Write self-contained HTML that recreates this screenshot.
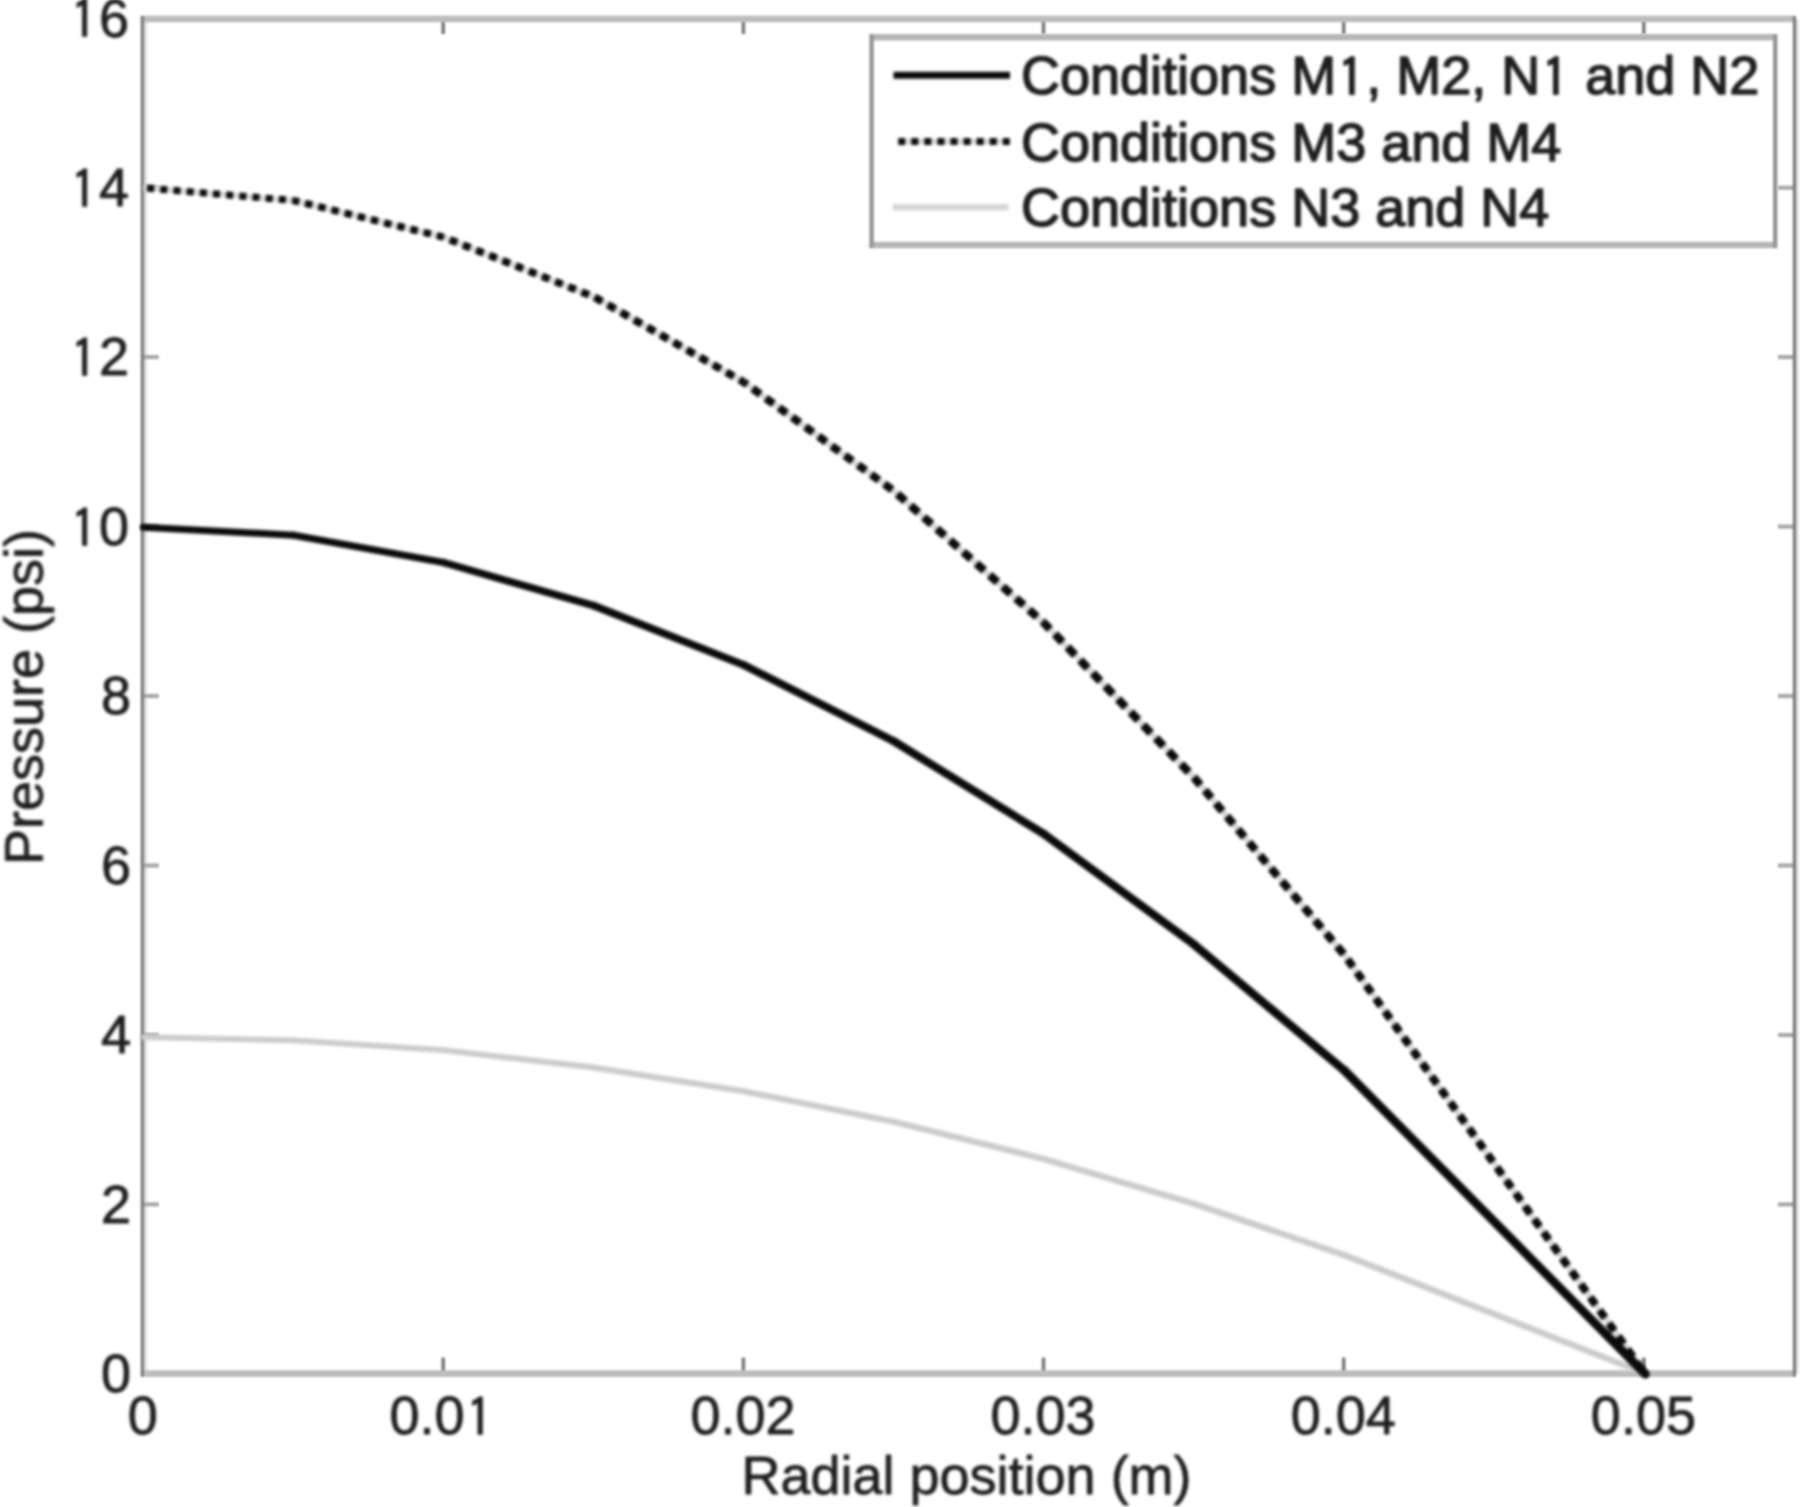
<!DOCTYPE html>
<html><head><meta charset="utf-8"><title>Pressure vs radial position</title>
<style>html,body{margin:0;padding:0;background:#fff}svg{display:block}text{font-family:'Liberation Sans',sans-serif;font-size:54px;fill:#1e1e1e;stroke:#1e1e1e;stroke-width:0.8px;stroke-linejoin:round}</style></head><body>
<svg width="1800" height="1507" viewBox="0 0 1800 1507">
<rect width="1800" height="1507" fill="#fff"/>
<g id="axes" style="filter:blur(0.8px)">
<line x1="145.3" y1="19.0" x2="145.3" y2="1373.6" stroke="#dadada" stroke-width="3"/>
<line x1="1797.2" y1="19.0" x2="1797.2" y2="1373.6" stroke="#dadada" stroke-width="2.6"/>
<line x1="443.2" y1="1373.6" x2="443.2" y2="1357.6" stroke="#7c7c7c" stroke-width="3.6"/>
<line x1="443.2" y1="19.0" x2="443.2" y2="34.0" stroke="#7c7c7c" stroke-width="3.6"/>
<line x1="743.4" y1="1373.6" x2="743.4" y2="1357.6" stroke="#7c7c7c" stroke-width="3.6"/>
<line x1="743.4" y1="19.0" x2="743.4" y2="34.0" stroke="#7c7c7c" stroke-width="3.6"/>
<line x1="1043.5" y1="1373.6" x2="1043.5" y2="1357.6" stroke="#7c7c7c" stroke-width="3.6"/>
<line x1="1043.5" y1="19.0" x2="1043.5" y2="34.0" stroke="#7c7c7c" stroke-width="3.6"/>
<line x1="1343.7" y1="1373.6" x2="1343.7" y2="1357.6" stroke="#7c7c7c" stroke-width="3.6"/>
<line x1="1343.7" y1="19.0" x2="1343.7" y2="34.0" stroke="#7c7c7c" stroke-width="3.6"/>
<line x1="1643.8" y1="1373.6" x2="1643.8" y2="1357.6" stroke="#7c7c7c" stroke-width="3.6"/>
<line x1="1643.8" y1="19.0" x2="1643.8" y2="34.0" stroke="#7c7c7c" stroke-width="3.6"/>
<line x1="142.3" y1="1204.4" x2="158.8" y2="1204.4" stroke="#a9a9a9" stroke-width="4.2"/>
<line x1="1794.4" y1="1204.4" x2="1777.9" y2="1204.4" stroke="#a9a9a9" stroke-width="4.2"/>
<line x1="142.3" y1="1035.0" x2="158.8" y2="1035.0" stroke="#a9a9a9" stroke-width="4.2"/>
<line x1="1794.4" y1="1035.0" x2="1777.9" y2="1035.0" stroke="#a9a9a9" stroke-width="4.2"/>
<line x1="142.3" y1="865.5" x2="158.8" y2="865.5" stroke="#a9a9a9" stroke-width="4.2"/>
<line x1="1794.4" y1="865.5" x2="1777.9" y2="865.5" stroke="#a9a9a9" stroke-width="4.2"/>
<line x1="142.3" y1="696.0" x2="158.8" y2="696.0" stroke="#a9a9a9" stroke-width="4.2"/>
<line x1="1794.4" y1="696.0" x2="1777.9" y2="696.0" stroke="#a9a9a9" stroke-width="4.2"/>
<line x1="142.3" y1="526.6" x2="158.8" y2="526.6" stroke="#a9a9a9" stroke-width="4.2"/>
<line x1="1794.4" y1="526.6" x2="1777.9" y2="526.6" stroke="#a9a9a9" stroke-width="4.2"/>
<line x1="142.3" y1="357.1" x2="158.8" y2="357.1" stroke="#a9a9a9" stroke-width="4.2"/>
<line x1="1794.4" y1="357.1" x2="1777.9" y2="357.1" stroke="#a9a9a9" stroke-width="4.2"/>
<line x1="142.3" y1="187.7" x2="158.8" y2="187.7" stroke="#a9a9a9" stroke-width="4.2"/>
<line x1="1794.4" y1="187.7" x2="1777.9" y2="187.7" stroke="#a9a9a9" stroke-width="4.2"/>
<line x1="140.8" y1="19.0" x2="1795.9" y2="19.0" stroke="#bdbdbd" stroke-width="6.4"/>
<line x1="140.8" y1="1373.6" x2="1795.9" y2="1373.6" stroke="#bdbdbd" stroke-width="6.6000000000000005"/>
<line x1="142.3" y1="16.0" x2="142.3" y2="1376.6" stroke="#7c7c7c" stroke-width="3.2"/>
<line x1="1794.4" y1="16.0" x2="1794.4" y2="1376.6" stroke="#7c7c7c" stroke-width="3.2"/>
</g>
<g id="curves" style="filter:blur(1.6px)">
<line x1="143.5" y1="1037.2" x2="293.6" y2="1040.4" stroke="#cbcbcb" stroke-width="5.83" stroke-linecap="round"/>
<line x1="293.6" y1="1040.4" x2="443.6" y2="1050.1" stroke="#cbcbcb" stroke-width="5.89" stroke-linecap="round"/>
<line x1="443.6" y1="1050.1" x2="593.7" y2="1067.5" stroke="#cbcbcb" stroke-width="5.96" stroke-linecap="round"/>
<line x1="593.7" y1="1067.5" x2="743.8" y2="1091.2" stroke="#cbcbcb" stroke-width="6.02" stroke-linecap="round"/>
<line x1="743.8" y1="1091.2" x2="893.9" y2="1121.7" stroke="#cbcbcb" stroke-width="6.08" stroke-linecap="round"/>
<line x1="893.9" y1="1121.7" x2="1043.9" y2="1158.9" stroke="#cbcbcb" stroke-width="6.15" stroke-linecap="round"/>
<line x1="1043.9" y1="1158.9" x2="1194.0" y2="1203.7" stroke="#cbcbcb" stroke-width="6.22" stroke-linecap="round"/>
<line x1="1194.0" y1="1203.7" x2="1344.1" y2="1255.0" stroke="#cbcbcb" stroke-width="6.28" stroke-linecap="round"/>
<line x1="1344.1" y1="1255.0" x2="1645.4" y2="1373.6" stroke="#cbcbcb" stroke-width="6.35" stroke-linecap="round"/>
<polyline points="143.5,187.8 293.6,200.5 443.6,237.2 593.7,296.7 743.8,382.2 893.9,491.0 1043.9,622.9 1194.0,777.5 1344.1,954.5 1645.4,1374.2" fill="none" stroke="#d9d9d9" stroke-width="5.5" stroke-linejoin="round"/>
<line x1="143.5" y1="187.8" x2="293.6" y2="200.5" stroke="#0b0b0b" stroke-width="7.03" stroke-dasharray="7.02 6.20" stroke-dashoffset="9.55"/>
<line x1="293.6" y1="200.5" x2="443.6" y2="237.2" stroke="#0b0b0b" stroke-width="7.27" stroke-dasharray="7.38 6.18" stroke-dashoffset="1.69"/>
<line x1="443.6" y1="237.2" x2="593.7" y2="296.7" stroke="#0b0b0b" stroke-width="7.49" stroke-dasharray="7.89 6.28" stroke-dashoffset="7.45"/>
<line x1="593.7" y1="296.7" x2="743.8" y2="382.2" stroke="#0b0b0b" stroke-width="7.75" stroke-dasharray="8.66 6.49" stroke-dashoffset="14.07"/>
<line x1="743.8" y1="382.2" x2="893.9" y2="491.0" stroke="#0b0b0b" stroke-width="7.99" stroke-dasharray="9.51 6.76" stroke-dashoffset="5.36"/>
<line x1="893.9" y1="491.0" x2="1043.9" y2="622.9" stroke="#0b0b0b" stroke-width="8.22" stroke-dasharray="10.47 7.06" stroke-dashoffset="12.82"/>
<line x1="1043.9" y1="622.9" x2="1194.0" y2="777.5" stroke="#0b0b0b" stroke-width="8.36" stroke-dasharray="10.96 7.16" stroke-dashoffset="2.36"/>
<line x1="1194.0" y1="777.5" x2="1344.1" y2="954.5" stroke="#0b0b0b" stroke-width="8.17" stroke-dasharray="10.14 6.91" stroke-dashoffset="17.34"/>
<line x1="1344.1" y1="954.5" x2="1645.4" y2="1374.2" stroke="#0b0b0b" stroke-width="7.98" stroke-dasharray="9.34 6.66" stroke-dashoffset="10.04"/>
<line x1="143.5" y1="527.3" x2="293.6" y2="535.2" stroke="#0b0b0b" stroke-width="7.00" stroke-linecap="round"/>
<line x1="293.6" y1="535.2" x2="443.6" y2="562.5" stroke="#0b0b0b" stroke-width="7.25" stroke-linecap="round"/>
<line x1="443.6" y1="562.5" x2="593.7" y2="605.6" stroke="#0b0b0b" stroke-width="7.45" stroke-linecap="round"/>
<line x1="593.7" y1="605.6" x2="743.8" y2="665.0" stroke="#0b0b0b" stroke-width="7.65" stroke-linecap="round"/>
<line x1="743.8" y1="665.0" x2="893.9" y2="741.3" stroke="#0b0b0b" stroke-width="7.87" stroke-linecap="round"/>
<line x1="893.9" y1="741.3" x2="1043.9" y2="834.0" stroke="#0b0b0b" stroke-width="8.07" stroke-linecap="round"/>
<line x1="1043.9" y1="834.0" x2="1194.0" y2="944.4" stroke="#0b0b0b" stroke-width="8.30" stroke-linecap="round"/>
<line x1="1194.0" y1="944.4" x2="1344.1" y2="1070.2" stroke="#0b0b0b" stroke-width="8.49" stroke-linecap="round"/>
<line x1="1344.1" y1="1070.2" x2="1645.4" y2="1374.2" stroke="#0b0b0b" stroke-width="8.78" stroke-linecap="round"/>
</g>
<rect x="871.6" y="37.2" width="903.6" height="207.8" fill="#fff" stroke="none"/>
<g id="legendbox" style="filter:blur(0.8px)">
<line x1="869.6" y1="37.2" x2="1777.2" y2="37.2" stroke="#b6b6b6" stroke-width="6.4"/>
<line x1="869.6" y1="245.0" x2="1777.2" y2="245.0" stroke="#b6b6b6" stroke-width="6.4"/>
<line x1="871.6" y1="34.2" x2="871.6" y2="248.0" stroke="#969696" stroke-width="4.4"/>
<line x1="1775.2" y1="34.2" x2="1775.2" y2="248.0" stroke="#969696" stroke-width="4.4"/>
</g>
<g id="legendlines" style="filter:blur(1.6px)">
<line x1="893.5" y1="75.2" x2="1010" y2="75.2" stroke="#0b0b0b" stroke-width="7.1"/>
<line x1="899" y1="141.4" x2="1009" y2="141.4" stroke="#d9d9d9" stroke-width="5.5"/>
<line x1="898.2" y1="141.4" x2="1010.5" y2="141.4" stroke="#0b0b0b" stroke-width="7.0" stroke-dasharray="7.0 6.08"/>
<line x1="893" y1="207.2" x2="1008.5" y2="207.2" stroke="#d6d6d6" stroke-width="6.6"/>
</g>
<g id="labels" style="filter:blur(1.4px)">
<text x="1021" y="94.4" style="stroke-width:1.5px">Conditions M<tspan style="font-family:IPAGothic,'Liberation Sans',sans-serif;font-size:52.6px" dx="1.8" dy="2.9">1</tspan><tspan dx="1.93" dy="-2.9">,</tspan> M2, N<tspan style="font-family:IPAGothic,'Liberation Sans',sans-serif;font-size:52.6px" dx="1.8" dy="2.9">1</tspan><tspan dx="1.93" dy="-2.9"> </tspan>and N2</text>
<text x="1021" y="160.6" style="stroke-width:1.5px">Conditions M3 and M4</text>
<text x="1021" y="226.4" style="stroke-width:1.5px">Conditions N3 and N4</text>
<text x="131.00" y="1392.2" text-anchor="end">0</text>
<text x="131.00" y="1222.7" text-anchor="end">2</text>
<text x="131.00" y="1053.3" text-anchor="end">4</text>
<text x="131.00" y="883.8" text-anchor="end">6</text>
<text x="131.00" y="714.4" text-anchor="end">8</text>
<text x="127.27" y="544.9" text-anchor="end"><tspan style="font-family:IPAGothic,'Liberation Sans',sans-serif;font-size:52.6px" dx="1.8" dy="2.9">1</tspan><tspan dx="1.93" dy="-2.9">0</tspan></text>
<text x="127.27" y="375.4" text-anchor="end"><tspan style="font-family:IPAGothic,'Liberation Sans',sans-serif;font-size:52.6px" dx="1.8" dy="2.9">1</tspan><tspan dx="1.93" dy="-2.9">2</tspan></text>
<text x="127.27" y="206.0" text-anchor="end"><tspan style="font-family:IPAGothic,'Liberation Sans',sans-serif;font-size:52.6px" dx="1.8" dy="2.9">1</tspan><tspan dx="1.93" dy="-2.9">4</tspan></text>
<text x="127.27" y="36.5" text-anchor="end"><tspan style="font-family:IPAGothic,'Liberation Sans',sans-serif;font-size:52.6px" dx="1.8" dy="2.9">1</tspan><tspan dx="1.93" dy="-2.9">6</tspan></text>
<text x="142.7" y="1434" text-anchor="middle">0</text>
<text x="441.0" y="1434" text-anchor="middle">0.0<tspan style="font-family:IPAGothic,'Liberation Sans',sans-serif;font-size:52.6px" dx="1.8" dy="2.9">1</tspan></text>
<text x="743.0" y="1434" text-anchor="middle">0.02</text>
<text x="1043.1" y="1434" text-anchor="middle">0.03</text>
<text x="1343.3" y="1434" text-anchor="middle">0.04</text>
<text x="1643.4" y="1434" text-anchor="middle">0.05</text>
<text x="966.5" y="1493.5" text-anchor="middle">Radial position (m)</text>
<text transform="translate(42.5,697) rotate(-90)" text-anchor="middle">Pressure (psi)</text>
</g>
</svg></body></html>
